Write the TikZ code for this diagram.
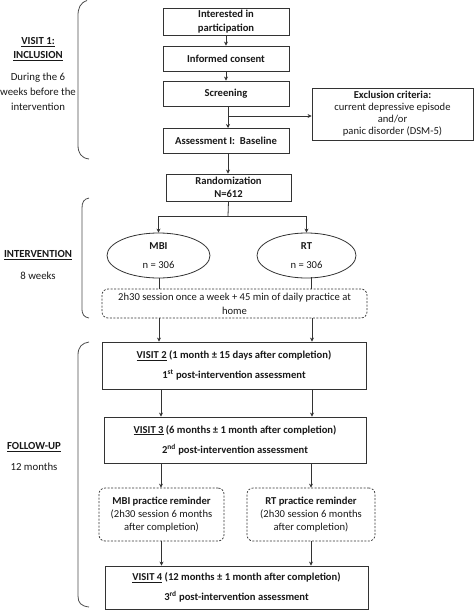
\documentclass[tikz,border=0pt]{standalone}
\usepackage{fontspec}
\setmainfont{Carlito}
\usetikzlibrary{arrows.meta,shapes.geometric,calc}
\begin{document}
\begin{tikzpicture}[x=1pt,y=-1pt,
  every node/.style={inner sep=1pt,font=\fontsize{10.6}{13}\selectfont,text=black!90},
  box/.style={draw=black!80,line width=0.8pt,align=center,font=\fontsize{10.6}{14}\selectfont\bfseries},
  dbox/.style={draw=black!80,line width=0.7pt,dash pattern=on 2pt off 1.5pt,rounded corners=6pt,align=center},
  oval/.style={draw=black!80,line width=0.8pt,ellipse,align=center},
  arr/.style={draw=black!80,line width=0.8pt,-{Stealth[length=4pt,width=4pt]}},
  ln/.style={draw=black!80,line width=0.8pt},
  brace/.style={draw=black!70,line width=0.8pt},
  lab/.style={align=center,font=\fontsize{10.8}{14}\selectfont\bfseries},
  sub/.style={align=center,font=\fontsize{10.8}{15}\selectfont}]
\useasboundingbox (0,0) rectangle (474,610);

% left braces
\draw[brace] (87,0.5) .. controls (80,3) and (78,8) .. (78,16) -- (78,145) .. controls (78,153) and (81,158) .. (89,159);
\draw[brace] (89,198) .. controls (84,199) and (82,202) .. (82,208) -- (82,308) .. controls (82,315) and (84,317) .. (89,318);
\draw[brace] (89,342) .. controls (82,343) and (78,347) .. (78,355) -- (78,596) .. controls (78,603) and (81,606) .. (89,607);

% left labels
\node[lab] (v1lab) at (38,49) {\underline{VISIT 1:}\\\underline{INCLUSION}};
\node[sub] (v1sub) at (38,92) {During the 6\\weeks before the\\intervention};
\node[lab] (intlab) at (38,255) {\underline{INTERVENTION}};
\node[sub] (intsub) at (38,276) {8 weeks};
\node[lab] (fulab) at (34,447) {\underline{FOLLOW-UP}};
\node[sub] (fusub) at (34,467) {12 months};

% top chain
\node[box,minimum width=126pt,minimum height=27pt] (int) at (226,21.5) {Interested in\\participation};
\node[box,minimum width=126pt,minimum height=25pt] (cons) at (226,58.5) {Informed consent};
\node[box,minimum width=126pt,minimum height=25pt] (scr) at (226,93.5) {Screening};
\node[draw=black!80,line width=0.8pt,align=center,minimum width=161pt,minimum height=52pt,font=\fontsize{10.6}{12}\selectfont] (exc) at (392.5,114) {\textbf{Exclusion criteria:}\\current depressive episode\\and/or\\panic disorder (DSM-5)};
\node[box,minimum width=126pt,minimum height=25pt] (base) at (226,140.5) {Assessment I:\ \ Baseline};
\node[box,minimum width=125pt,minimum height=27pt,font=\fontsize{10.6}{13}\selectfont\bfseries] (rand) at (228.5,187.5) {Randomization\\N=612};

\draw[arr] (int.south) -- (cons.north);
\draw[arr] (cons.south) -- (cons.south |- scr.north);
\draw[arr] (228,106) coordinate (s1) -- (228,128) coordinate (s2);
\coordinate (br) at (228,116);
\draw[arr] (br) -- (br -| exc.west);
\draw[arr] (228,153) coordinate (b1) -- (b1 |- rand.north);

% intervention
\node[oval,minimum width=103pt,minimum height=45pt] (mbi) at (158.5,255.5) {\textbf{MBI}\\[6pt]n = 306};
\node[oval,minimum width=99pt,minimum height=45pt] (rt) at (306.5,255.5) {\textbf{RT}\\[6pt]n = 306};
\node[dbox,minimum width=265pt,minimum height=29pt,font=\fontsize{10.6}{14}\selectfont] (sess) at (234.5,303.5) {2h30 session once a week + 45 min of daily practice at\\home};

\coordinate (rb) at (228,216);
\draw[ln] (rand.south |- rand.south) -- (rb);
\draw[arr] (rb) -| (mbi.north);
\draw[arr] (rb) -| (rt.north);
\draw[ln] (159,278) coordinate (m1) -- (m1 |- sess.north);
\draw[ln] (311,277) coordinate (r1) -- (r1 |- sess.north);

% follow-up
\node[box,minimum width=264pt,minimum height=47pt,font=\fontsize{10.6}{13}\selectfont\bfseries] (v2) at (234,365.5) {\underline{VISIT 2} (1 month ± 15 days after completion)\\[7pt]1\textsuperscript{st} post-intervention assessment};
\node[box,minimum width=262pt,minimum height=46pt,font=\fontsize{10.6}{13}\selectfont\bfseries] (v3) at (235,440) {\underline{VISIT 3} (6 months ± 1 month after completion)\\[7pt]2\textsuperscript{nd} post-intervention assessment};
\node[dbox,minimum width=125pt,minimum height=53pt] (mbr) at (161.5,514.5) {\textbf{MBI practice reminder}\\(2h30 session 6 months\\after completion)};
\node[dbox,minimum width=128pt,minimum height=53pt] (rtr) at (311,514.5) {\textbf{RT practice reminder}\\(2h30 session 6 months\\after completion)};
\node[box,minimum width=263pt,minimum height=43pt,font=\fontsize{10.6}{13}\selectfont\bfseries] (v4) at (236.5,587.5) {\underline{VISIT 4} (12 months ± 1 month after completion)\\[7pt]3\textsuperscript{rd} post-intervention assessment};

\draw[arr] (159,318) coordinate (a1) -- (a1 |- v2.north);
\draw[arr] (312,318) coordinate (a2) -- (a2 |- v2.north);
\draw[arr] (161,389) coordinate (a3) -- (a3 |- v3.north);
\draw[arr] (312,389) coordinate (a4) -- (a4 |- v3.north);
\draw[arr] (161,463) coordinate (a5) -- (a5 |- mbr.north);
\draw[arr] (311,463) coordinate (a6) -- (a6 |- rtr.north);
\draw[arr] (mbr.south) -- (mbr.south |- v4.north);
\draw[arr] (rtr.south) -- (rtr.south |- v4.north);
\end{tikzpicture}
\end{document}
